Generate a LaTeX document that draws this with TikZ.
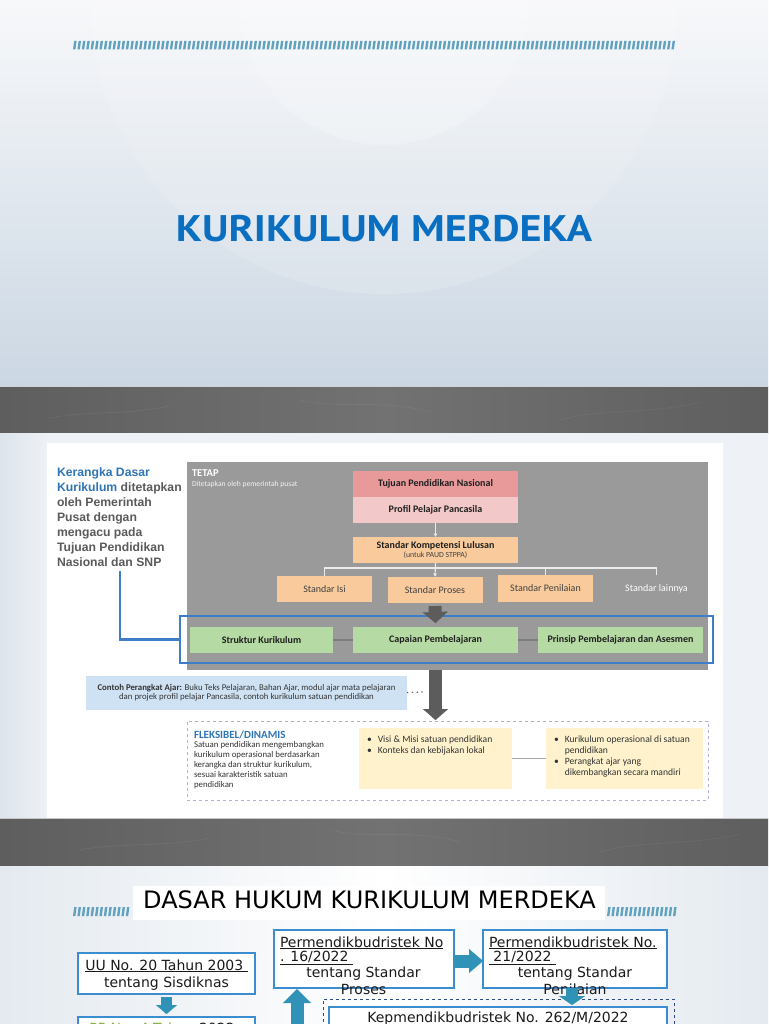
\documentclass[tikz,border=0pt]{standalone}
\usepackage{fontspec}
\setmainfont{Carlito}
\newfontfamily\ptsansf{PT Sans}
\newfontfamily\liberf{Liberation Sans}
\newfontfamily\dejavuf{DejaVu Sans}
\usetikzlibrary{arrows.meta}
\definecolor{s1top}{HTML}{F7F8FA}
\definecolor{s1bot}{HTML}{CBD7E3}
\definecolor{stripeblue}{HTML}{62A2BF}
\definecolor{titleblue}{HTML}{0B6FC1}
\definecolor{band1}{HTML}{5E5E5E}
\definecolor{band2}{HTML}{727272}
\definecolor{s2bg}{HTML}{EEF1F5}
\definecolor{s2left}{HTML}{DCE4EC}
\definecolor{panelgray}{HTML}{9A9A9A}
\definecolor{boxtext}{HTML}{1F1F1F}
\definecolor{stdtext}{HTML}{404040}
\definecolor{darkarrow}{HTML}{5C5C5C}
\definecolor{pinkA}{HTML}{E8999A}
\definecolor{pinkB}{HTML}{F3C8C8}
\definecolor{peach}{HTML}{F9CB9C}
\definecolor{greenbox}{HTML}{B6DAA4}
\definecolor{frameblue}{HTML}{3E7EC8}
\definecolor{lightblue}{HTML}{CFE2F3}
\definecolor{yellowbox}{HTML}{FFF2CC}
\definecolor{lavender}{HTML}{B9ACDD}
\definecolor{textblue}{HTML}{2E75B6}
\definecolor{kdgray}{HTML}{5A5A5A}
\definecolor{bodytext}{HTML}{333333}
\definecolor{boxblue}{HTML}{3C8DD0}
\definecolor{arrowteal}{HTML}{3192B8}
\definecolor{navy}{HTML}{2E4A86}
\definecolor{lawtextcol}{HTML}{1A1A1A}
\definecolor{ppgreen}{HTML}{7FAF3A}
\definecolor{s3side}{HTML}{E4EAF0}
\begin{document}
\begin{tikzpicture}[x=1pt,y=-1pt,
  every node/.style={inner sep=0pt,outer sep=0pt},
  stripe/.style={fill=stripeblue},
  pbox/.style={fill=#1,minimum width=165pt,minimum height=26pt,font=\fontsize{10}{12}\selectfont\bfseries,text=boxtext},
  sbox/.style={fill=peach,minimum width=95pt,minimum height=26pt,font=\fontsize{10}{12}\selectfont,text=stdtext},
  gbox/.style={fill=greenbox,minimum height=26pt,font=\fontsize{10}{12}\selectfont\bfseries,text=boxtext},
  ybox/.style={fill=yellowbox,minimum height=61pt},
  wline/.style={draw=white!92!black,line width=1.1pt},
  darkblock/.style={draw=darkarrow,line width=13pt,-{Triangle[length=11pt,width=25pt,line width=0.1pt]}},
  tealblock/.style n args={3}{draw=arrowteal,line width=#1,-{Triangle[length=#2,width=#3,line width=0.1pt]}},
  lawbox/.style={draw=boxblue,line width=1.3pt,fill=white},
  lawtext/.style={font=\dejavuf\fontsize{14}{16}\selectfont,text=lawtextcol},
  smalltext/.style={font=\fontsize{9.6}{11}\selectfont,text=bodytext}]
\useasboundingbox (0,0) rectangle (768,1024);
\clip (0,0) rectangle (768,1024);

% ---------- slide 1 ----------
\shade[top color=s1top,bottom color=s1bot] (0,0) rectangle (768,386);
\fill[white,opacity=0.13] (384,0) circle (294);
\fill[white,opacity=0.2] (384,0) circle (145);
\foreach \i in {0,...,136}
  \fill[stripe] ({73+4.4*\i},49.5) -- ++(2.4,0) -- ++(1.2,-8.5) -- ++(-2.4,0) -- cycle;
\node[font=\ptsansf\bfseries\fontsize{37}{42}\selectfont,text=titleblue] (t1) at (384,229) {\scalebox{1.14}[1]{KURIKULUM MERDEKA}};

% ---------- band 1 ----------
\shade[left color=band1,right color=band1,middle color=band2] (0,386) rectangle (768,433);
\draw[white!65!gray,line width=1.2pt] (0,386.6) -- (768,386.6);
\draw[white,opacity=0.06,line width=0.8pt] (50,418) .. controls (90,410) and (120,416) .. (170,406);
\draw[white,opacity=0.05,line width=0.8pt] (300,400) .. controls (340,410) and (380,398) .. (430,412);
\draw[white,opacity=0.05,line width=0.8pt] (560,420) .. controls (600,408) and (650,415) .. (700,402);

% ---------- slide 2 ----------
\fill[s2bg] (0,433) rectangle (768,818);
\shade[left color=s2left,right color=s2bg] (0,433) rectangle (47,818);
\fill[white] (47,443) rectangle (723,818);

\node[anchor=north west,align=left,font=\liberf\bfseries\fontsize{12.2}{15}\selectfont,text=kdgray] (kd) at (57,468)
 {\textcolor{textblue}{Kerangka Dasar}\\\textcolor{textblue}{Kurikulum} ditetapkan\\oleh Pemerintah\\Pusat dengan\\mengacu pada\\Tujuan Pendidikan\\Nasional dan SNP};
\coordinate (kdline) at (120,571);

\node[fill=panelgray,minimum width=521pt,minimum height=208pt] (panel) at (447.5,566) {};
\node[anchor=base west,font=\fontsize{10.5}{12}\selectfont\bfseries,text=white] (tetap) at (192,476) {TETAP};
\node[anchor=base west,font=\fontsize{7.6}{9}\selectfont,text=white!90!gray] (tetapsub) at (192,486) {Ditetapkan oleh pemerintah pusat};

\node[pbox=pinkA] (tujuan) at (435.5,484) {Tujuan Pendidikan Nasional};
\node[pbox=pinkB] (profil) at (435.5,510) {Profil Pelajar Pancasila};
\node[pbox=peach] (skl) at (435.5,550) {};
\node[anchor=base,font=\fontsize{10}{12}\selectfont\bfseries,text=boxtext] (skltitle) at (435.5,548) {Standar Kompetensi Lulusan};
\node[anchor=base,font=\fontsize{7.8}{9}\selectfont,text=stdtext] (sklsub) at (435.5,557.5) {(untuk PAUD STPPA)};

\node[sbox] (isi) at (324.5,589) {Standar Isi};
\node[sbox] (proses) at (435,590) {Standar Proses};
\node[sbox,minimum height=27pt] (penilaian) at (545.5,588.5) {Standar Penilaian};
\node[minimum width=80pt,minimum height=27pt,font=\fontsize{10}{12}\selectfont,text=white] (lainnya) at (656.5,588.5) {Standar lainnya};

\draw[wline,-{Latex[length=3.5pt,width=4pt]}] (profil.south) -- (skl.north);
\coordinate (hub) at (435.5,568);
\draw[wline] (isi.north) -- (isi.north |- hub) -- (lainnya.north |- hub) -- (lainnya.north);
\draw[wline] (penilaian.north) -- (penilaian.north |- hub);
\draw[wline,-{Latex[length=3.5pt,width=4pt]}] (skl.south) -- (proses.north);

\node[gbox,minimum width=143pt] (struktur) at (261.5,640) {Struktur Kurikulum};
\node[gbox,minimum width=165pt] (capaian) at (435.5,640) {Capaian Pembelajaran};
\node[gbox,minimum width=165pt] (prinsip) at (620.5,640) {Prinsip Pembelajaran dan Asesmen};
\draw[darkarrow!80,line width=1.4pt] (struktur.east) -- (capaian.west);
\draw[darkarrow!80,line width=1.4pt] (capaian.east) -- (prinsip.west);

\node[draw=frameblue,line width=2.2pt,minimum width=533pt,minimum height=47pt] (frame) at (446.5,639.5) {};
\draw[frameblue,line width=2.2pt] (kdline) |- (frame.west);
\draw[darkblock] ([yshift=-3pt]proses.south) -- ([yshift=4pt]capaian.north);

\node[fill=lightblue,minimum width=321pt,minimum height=34pt,align=center,font=\fontsize{8.8}{9.6}\selectfont,text=bodytext] (contoh) at (246.5,692.5)
 {\textbf{Contoh Perangkat Ajar:} Buku Teks Pelajaran, Bahan Ajar, modul ajar mata pelajaran\\dan projek profil pelajar Pancasila, contoh kurikulum satuan pendidikan};
\coordinate (dotend) at (425,692);
\draw[darkarrow,line width=1.2pt,dash pattern=on 1.2pt off 3.6pt] (contoh.east) -- (dotend);

\node[draw=lavender,dashed,line width=0.9pt,minimum width=521pt,minimum height=79pt] (flex) at (447.5,760.5) {};
\draw[darkblock] (panel.south -| capaian.south) -- ([yshift=1pt]flex.north -| capaian.south);

\node[anchor=base west,font=\fontsize{11}{13}\selectfont\bfseries,text=textblue] (flextitle) at (194,738) {FLEKSIBEL/DINAMIS};
\node[anchor=north west,align=left,font=\fontsize{8.8}{10}\selectfont,text=bodytext] (flexbody) at (194,741.6)
 {Satuan pendidikan mengembangkan\\kurikulum operasional berdasarkan\\kerangka dan struktur kurikulum,\\sesuai karakteristik satuan\\pendidikan};

\node[ybox,minimum width=153pt] (y1) at (435.5,758.5) {};
\node[ybox,minimum width=157pt] (y2) at (624.5,758.5) {};
\draw[gray!70,line width=0.9pt] (y1.east) -- (y2.west);
\node[anchor=north west,smalltext] (y1text) at (367,735.2)
 {\begin{tabular}{@{}c@{\hspace{6pt}}l@{}}\textbullet & Visi \& Misi satuan pendidikan\\ \textbullet & Konteks dan kebijakan lokal\end{tabular}};
\node[anchor=north west,smalltext] (y2text) at (554,735.2)
 {\begin{tabular}{@{}c@{\hspace{6pt}}l@{}}\textbullet & Kurikulum operasional di satuan\\ & pendidikan\\ \textbullet & Perangkat ajar yang\\ & dikembangkan secara mandiri\end{tabular}};

% ---------- band 2 ----------
\shade[left color=band1,right color=band1,middle color=band2] (0,818) rectangle (768,866);
\draw[white!55!gray,line width=1.2pt] (0,818.6) -- (768,818.6);
\draw[white,opacity=0.06,line width=0.8pt] (80,850) .. controls (120,842) and (160,848) .. (210,838);
\draw[white,opacity=0.05,line width=0.8pt] (330,830) .. controls (370,840) and (410,828) .. (460,842);
\draw[white,opacity=0.05,line width=0.8pt] (600,852) .. controls (640,840) and (690,846) .. (740,834);

% ---------- slide 3 ----------
\shade[left color=s3side,right color=s3side,middle color=white] (0,866) rectangle (768,1024);
\foreach \i in {0,...,12}
  \fill[stripe] ({73+4.4*\i},916) -- ++(2.4,0) -- ++(1.2,-9) -- ++(-2.4,0) -- cycle;
\foreach \i in {0,...,15}
  \fill[stripe] ({607+4.4*\i},916) -- ++(2.4,0) -- ++(1.2,-9) -- ++(-2.4,0) -- cycle;
\node[fill=white,minimum width=472pt,minimum height=34pt] (t3bg) at (369,903) {};
\node[anchor=base,font=\dejavuf\fontsize{24}{28}\selectfont,text=black] (t3) at (369.5,908.5) {DASAR HUKUM KURIKULUM MERDEKA};

\node[lawbox,minimum width=177pt,minimum height=41pt] (uu) at (166.5,973.5) {};
\node[lawtext,anchor=base] (uu1) at (166.5,970) {\underline{UU No. 20 Tahun 2003\ }};
\node[lawtext,anchor=base] (uu2) at (166.5,987) {tentang Sisdiknas};

\node[lawbox,minimum width=177pt,minimum height=43pt] (pp) at (166.5,1038.5) {};
\node[lawtext,anchor=base] (pp1) at (162,1033) {\underline{\textcolor{ppgreen}{PP No. 4 Tahun} 2022}};

\node[lawbox,minimum width=180pt,minimum height=58pt] (b16) at (364,959) {};
\node[lawtext,anchor=base west] (b16a) at (280,947) {\underline{Permendikbudristek No}};
\node[lawtext,anchor=base west] (b16b) at (280,961.5) {\underline{. 16/2022\ }};
\node[lawtext,anchor=base] (b16c) at (363.5,977.5) {tentang Standar};
\node[lawtext,anchor=base] (b16d) at (363.5,994) {Proses};

\node[lawbox,minimum width=184pt,minimum height=58pt] (b21) at (575,959) {};
\node[lawtext,anchor=base west] (b21a) at (489,947) {\underline{Permendikbudristek No.}};
\node[lawtext,anchor=base west] (b21b) at (489,961.5) {\underline{\ 21/2022\ }};
\node[lawtext,anchor=base] (b21c) at (575,977.5) {tentang Standar};
\node[lawtext,anchor=base] (b21d) at (575,994) {Penilaian};

\node[draw=navy,dashed,line width=1pt,minimum width=351pt,minimum height=70pt] (kepgroup) at (498.5,1034) {};
\node[lawbox,minimum width=338pt,minimum height=52pt] (kep) at (498,1033) {};
\node[lawtext,anchor=base] (kep1) at (498,1022.5) {Kepmendikbudristek No. 262/M/2022};

\draw[tealblock={11pt}{9pt}{21pt}] ([yshift=-3pt]uu.south) -- ([yshift=3pt]pp.north);
\draw[tealblock={13pt}{14pt}{24pt}] ([yshift=-2pt]b16.east) -- ([yshift=-2pt]b21.west);
\draw[tealblock={12pt}{9pt}{26pt}] ([xshift=-3pt]b21.south) -- ([xshift=-3pt,yshift=-17pt]b21.south);
\coordinate (upstart) at (297,1030);
\draw[tealblock={13pt}{14pt}{28pt}] (upstart) -- ([yshift=-1pt]upstart |- b16.south);
\end{tikzpicture}
\end{document}
